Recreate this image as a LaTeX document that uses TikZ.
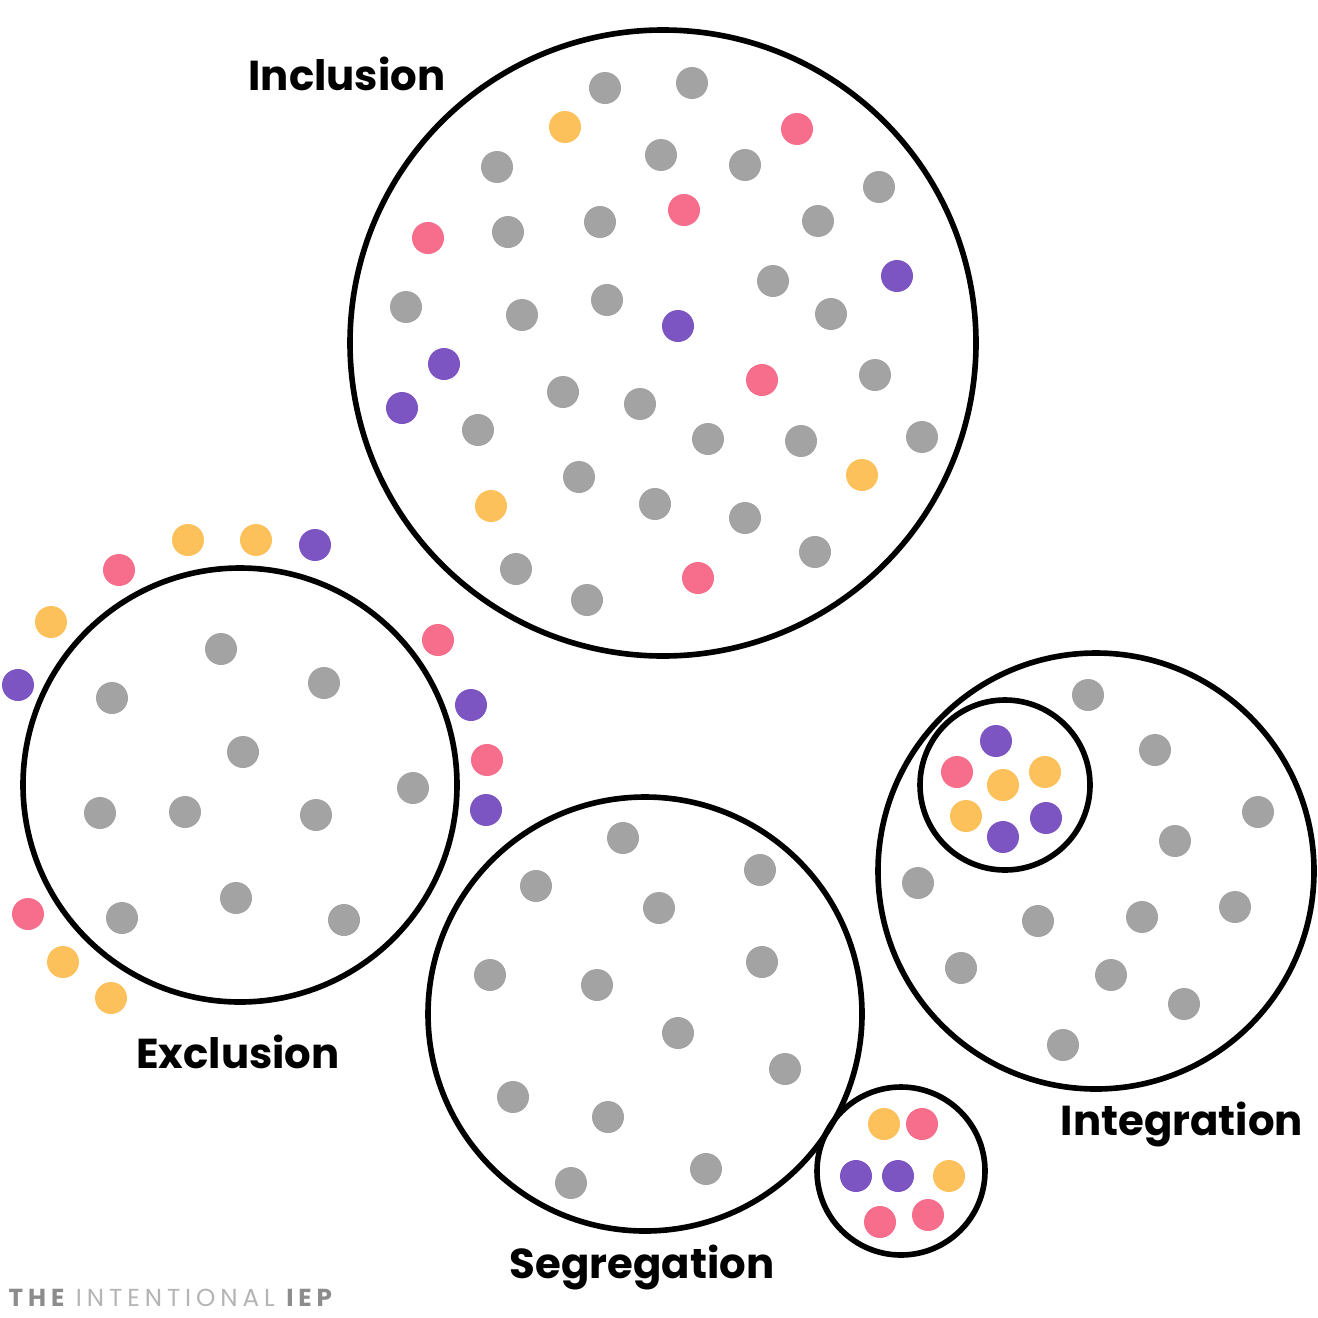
\documentclass[tikz,border=0pt]{standalone}
\usepackage{fontspec}
\setmainfont{Poppins}
\definecolor{dotgray}{HTML}{A3A3A3}
\definecolor{dotyellow}{HTML}{FDC15B}
\definecolor{dotpink}{HTML}{F76E8C}
\definecolor{dotpurple}{HTML}{7D55C3}
\definecolor{logogray}{HTML}{8C8C8C}
\definecolor{logolight}{HTML}{B4B4B4}
\tikzset{
    ring/.style={black, line width=1.6pt},
    grouplabel/.style={font=\fontsize{11.9}{14}\selectfont\bfseries, text=black, inner sep=0pt}
}

\begin{document}
\begin{tikzpicture}[x=0.1mm, y=-0.1mm]
        \useasboundingbox (0,0) rectangle (1318,1318);

        % big circles
        \draw [ring] (663,343) circle[radius=31.3mm];
        \draw [ring] (240,785) circle[radius=21.7mm];
        \draw [ring] (645,1014) circle[radius=21.7mm];
        \draw [ring] (1096,871) circle[radius=21.8mm];
        % small circles
        \draw [ring] (901,1171) circle[radius=8.4mm];
        \draw [ring, fill=white] (1005,785) circle[radius=8.5mm];

        % inclusion
        \foreach \x/\y in {605/88,692/83,497/167,661/155,745/165,879/187,508/232,600/222,818/221,
            406/307,522/315,607/300,773/281,831/314,875/375,563/392,640/404,478/430,708/439,
            801/441,922/437,579/477,655/504,745/518,516/569,587/600,815/552} {
            \fill [dotgray] (\x,\y) circle[radius=1.6mm];
        }
        \foreach \x/\y in {565/127,862/475,491/506} {
            \fill [dotyellow] (\x,\y) circle[radius=1.6mm];
        }
        \foreach \x/\y in {797/129,684/210,428/238,762/380,698/578} {
            \fill [dotpink] (\x,\y) circle[radius=1.6mm];
        }
        \foreach \x/\y in {897/276,678/326,444/364,402/408} {
            \fill [dotpurple] (\x,\y) circle[radius=1.6mm];
        }

        % exclusion
        \foreach \x/\y in {221/649,112/698,324/683,243/752,100/813,185/812,316/815,413/788,
            122/918,236/898,344/920} {
            \fill [dotgray] (\x,\y) circle[radius=1.6mm];
        }
        \foreach \x/\y in {188/540,256/540,51/622,63/962,111/998} {
            \fill [dotyellow] (\x,\y) circle[radius=1.6mm];
        }
        \foreach \x/\y in {119/570,438/640,487/760,28/914} {
            \fill [dotpink] (\x,\y) circle[radius=1.6mm];
        }
        \foreach \x/\y in {315/545,18/685,471/705,486/810} {
            \fill [dotpurple] (\x,\y) circle[radius=1.6mm];
        }

        % segregation
        \foreach \x/\y in {623/838,536/886,659/908,760/870,490/975,597/985,762/962,678/1033,
            785/1069,513/1097,608/1117,571/1183,706/1169} {
            \fill [dotgray] (\x,\y) circle[radius=1.6mm];
        }
        \foreach \x/\y in {884/1124,949/1176} {
            \fill [dotyellow] (\x,\y) circle[radius=1.6mm];
        }
        \foreach \x/\y in {922/1124,880/1222,928/1215} {
            \fill [dotpink] (\x,\y) circle[radius=1.6mm];
        }
        \foreach \x/\y in {856/1176,898/1176} {
            \fill [dotpurple] (\x,\y) circle[radius=1.6mm];
        }

        % integration
        \foreach \x/\y in {1088/695,1155/750,1258/812,1175/841,918/883,1038/921,1142/917,
            1235/907,961/968,1111/975,1184/1004,1063/1045} {
            \fill [dotgray] (\x,\y) circle[radius=1.6mm];
        }
        \foreach \x/\y in {1003/785,1045/772,966/816} {
            \fill [dotyellow] (\x,\y) circle[radius=1.6mm];
        }
        \fill [dotpink] (957,772) circle[radius=1.6mm];
        \foreach \x/\y in {996/741,1003/837,1046/818} {
            \fill [dotpurple] (\x,\y) circle[radius=1.6mm];
        }

        % labels
        \node [grouplabel] (inclusion) at (347,74) {Inclusion};
        \node [grouplabel] (exclusion) at (238,1052) {Exclusion};
        \node [grouplabel] (segregation) at (642,1267) {Segregation};
        \node [grouplabel] (integration) at (1182,1124) {Integration};

        \node [anchor=west, inner sep=0pt, font=\fontsize{7}{8}\selectfont\addfontfeature{LetterSpace=20}] (logo) at (8,1298)
            {\textcolor{logogray}{\bfseries THE} \textcolor{logolight}{INTENTIONAL} \textcolor{logogray}{\bfseries IEP}};
\end{tikzpicture}
\end{document}
